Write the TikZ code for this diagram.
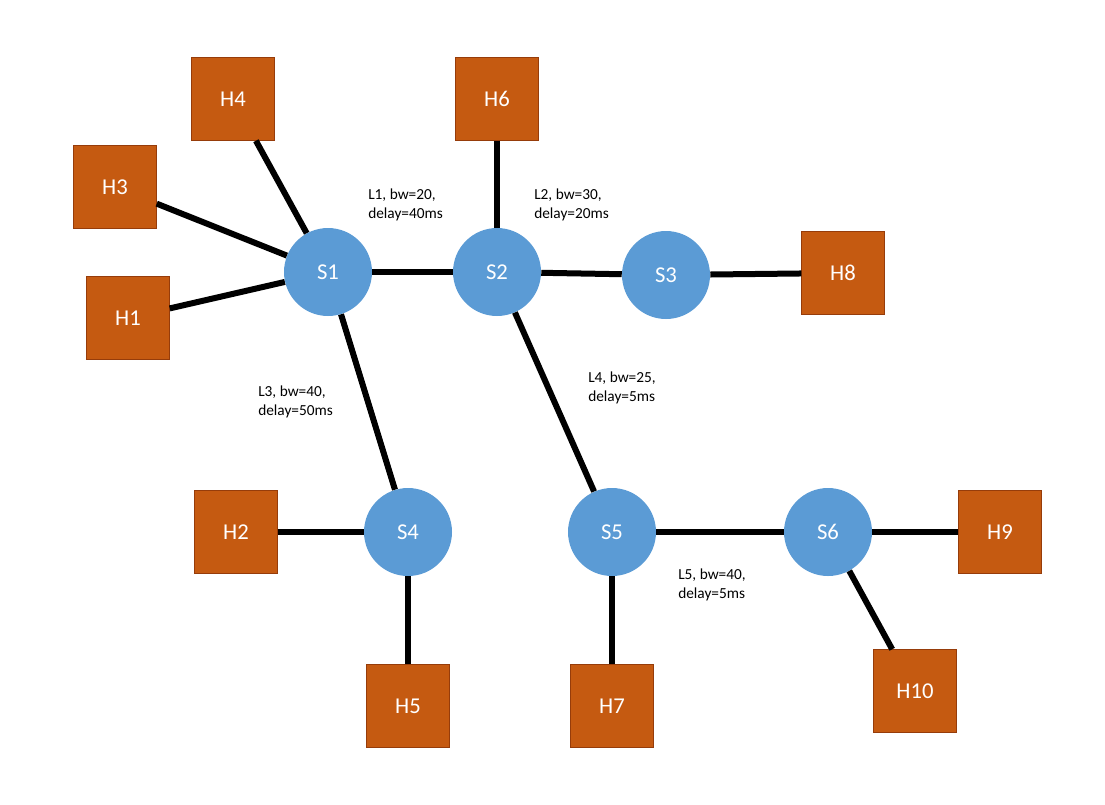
\documentclass[tikz,border=0pt]{standalone}
\usepackage{fontspec}
\setmainfont{Carlito}
\begin{document}
\begin{tikzpicture}[x=0.75pt,y=-0.75pt,
  sw/.style={circle,fill={rgb,255:red,91;green,155;blue,213},minimum size=66pt,inner sep=0,text=white,font=\fontsize{17}{17}\selectfont},
  host/.style={rectangle,fill={rgb,255:red,197;green,90;blue,17},draw={rgb,255:red,150;green,60;blue,10},line width=0.6pt,minimum size=62pt,inner sep=0,text=white,font=\fontsize{17}{17}\selectfont},
  lk/.style={line width=4.5pt,black},
  lab/.style={align=left,anchor=north west,inner sep=0,font=\fontsize{11.5}{14}\selectfont}]
\useasboundingbox (0,0) rectangle (1105,804);
\node[sw] (S1) at (328,272) {S1};
\node[sw] (S2) at (497,272) {S2};
\node[sw] (S3) at (666,275) {S3};
\node[sw] (S4) at (408,532) {S4};
\node[sw] (S5) at (612,532) {S5};
\node[sw] (S6) at (828,532) {S6};
\node[host] (H4) at (233,99) {H4};
\node[host] (H6) at (497,99) {H6};
\node[host] (H3) at (115,187) {H3};
\node[host] (H1) at (128,318) {H1};
\node[host] (H8) at (843,273) {H8};
\node[host] (H2) at (236,532) {H2};
\node[host] (H5) at (408,706) {H5};
\node[host] (H7) at (612,706) {H7};
\node[host] (H9) at (1000,532) {H9};
\node[host] (H10) at (915,691) {H10};
\draw[lk] (H4) -- (S1);
\draw[lk] (H3) -- (S1);
\draw[lk] (H1) -- (S1);
\draw[lk] (S1) -- (S2);
\draw[lk] (S2) -- (S3);
\draw[lk] (S3) -- (H8);
\draw[lk] (H6) -- (S2);
\draw[lk] (S1) -- (S4);
\draw[lk] (S2) -- (S5);
\draw[lk] (H2) -- (S4);
\draw[lk] (S4) -- (H5);
\draw[lk] (S5) -- (H7);
\draw[lk] (S5) -- (S6);
\draw[lk] (S6) -- (H9);
\draw[lk] (S6) -- (H10);
\node[lab] (l1) at (368,189) {L1, bw=20,\\delay=40ms};
\node[lab] (l2) at (534,189) {L2, bw=30,\\delay=20ms};
\node[lab] (l3) at (258,386) {L3, bw=40,\\delay=50ms};
\node[lab] (l4) at (588,372) {L4, bw=25,\\delay=5ms};
\node[lab] (l5) at (678,569) {L5, bw=40,\\delay=5ms};
\end{tikzpicture}
\end{document}
